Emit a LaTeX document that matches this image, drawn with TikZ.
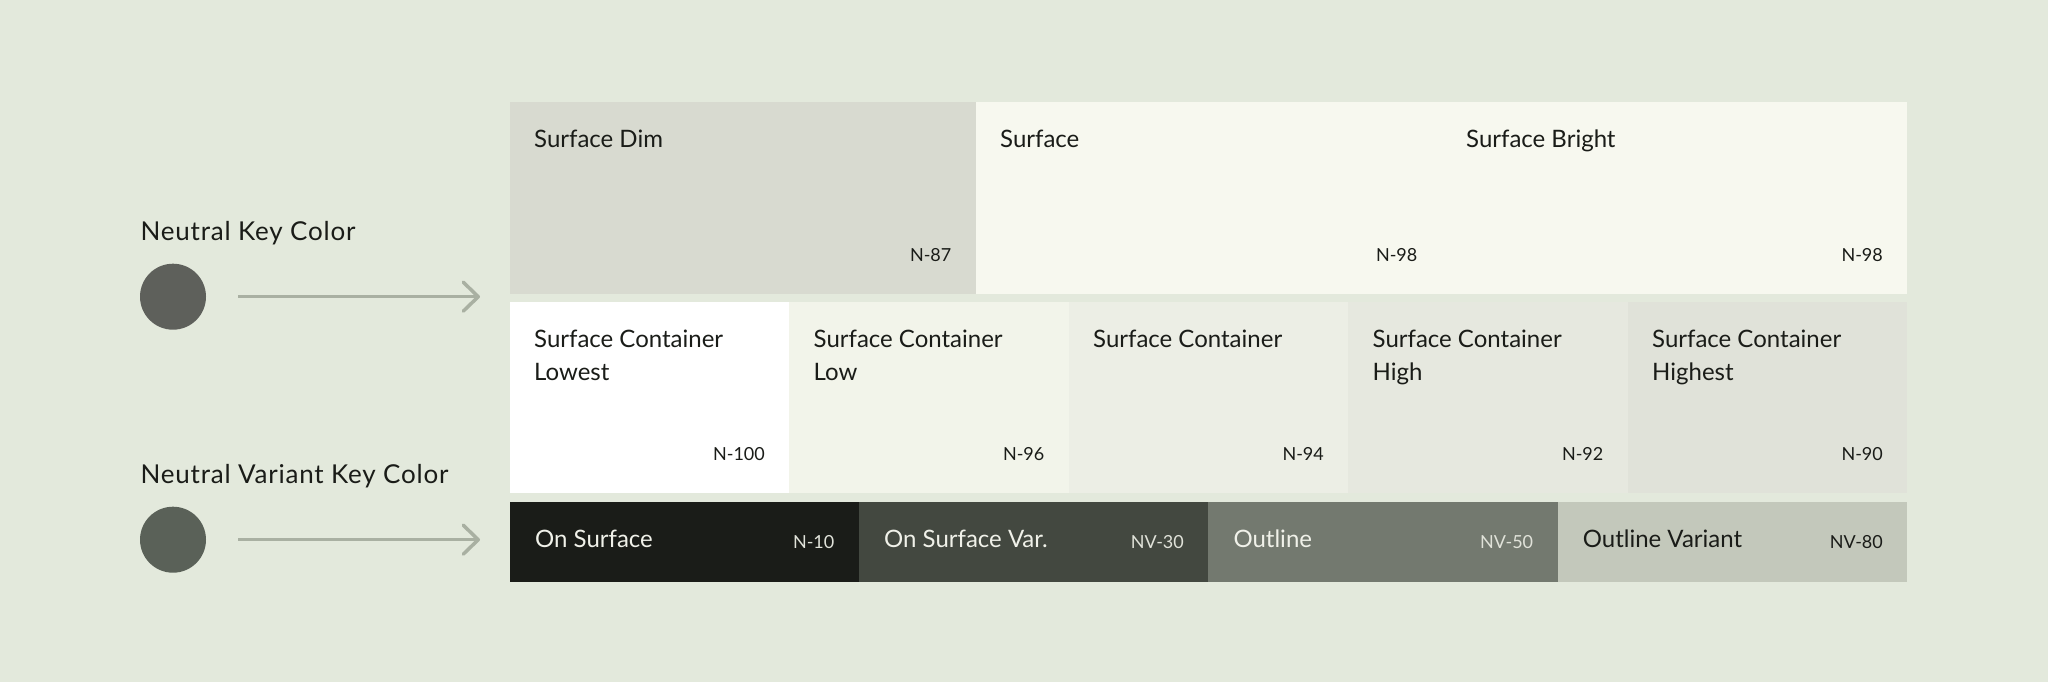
\documentclass[tikz,border=0pt]{standalone}
\usepackage{fontspec}
\setmainfont{Lato}
\newfontfamily\keyfont[LetterSpace=3.0]{Lato}
\usetikzlibrary{arrows.meta}
\definecolor{bg}{HTML}{E3E9DC}
\definecolor{ink}{HTML}{1A1C18}
\definecolor{light}{HTML}{F0F1E9}
\definecolor{lightdim}{HTML}{E0E2D9}
\definecolor{sdim}{HTML}{D8DAD0}
\definecolor{surf}{HTML}{F7F8EF}
\definecolor{scLowest}{HTML}{FFFFFF}
\definecolor{scLow}{HTML}{F2F4EA}
\definecolor{sc}{HTML}{ECEEE5}
\definecolor{scHigh}{HTML}{E6E8DF}
\definecolor{scHighest}{HTML}{E0E2D9}
\definecolor{onsurf}{HTML}{1A1C18}
\definecolor{onsurfvar}{HTML}{434840}
\definecolor{outl}{HTML}{73796F}
\definecolor{outlvar}{HTML}{C3C8BB}
\definecolor{keyN}{HTML}{5E605B}
\definecolor{keyNV}{HTML}{5A6158}
\definecolor{arrowc}{HTML}{A9B0A2}
\begin{document}
\begin{tikzpicture}[x=1pt,y=-1pt,
  cell/.style={rectangle, inner sep=0pt, outer sep=0pt, anchor=north west, draw=none},
  bigcell/.style={cell, minimum width=466.2pt, minimum height=191.5pt},
  midcell/.style={cell, minimum width=279.6pt, minimum height=191pt},
  lowcell/.style={cell, minimum width=349.5pt, minimum height=80pt},
  title/.style={anchor=base west, inner sep=0pt, text=ink, font=\fontsize{24}{32.6}\selectfont},
  tone/.style={anchor=base east, inner sep=0pt, text=ink, font=\fontsize{18}{22}\selectfont},
  keylabel/.style={anchor=base west, inner sep=0pt, text=ink, font=\keyfont\fontsize{26}{30}\selectfont},
  keydot/.style={circle, inner sep=0pt, minimum size=66pt},
  keyarrow/.style={draw=arrowc, line width=3.5pt, -{Straight Barb[length=15pt,width=29pt,round]}}
]
\fill[bg] (0,0) rectangle (2048,682);
\useasboundingbox (0,0) rectangle (2048,682);

% ---- row 1
\node[bigcell, fill=sdim] (dim) at (509.5,102) {};
\node[bigcell, fill=surf, minimum width=466.6pt] (surface) at (975.6,102) {};
\node[bigcell, fill=surf] (bright) at (1440.8,102) {};
\node[title] (dimT) at (534,147.5) {Surface Dim};
\node[tone] (dimN) at (951.5,261) {N-87};
\node[title] (surfT) at (1000,147.5) {Surface};
\node[tone] (surfN) at (1417.5,261) {N-98};
\node[title] (brightT) at (1466,147.5) {Surface Bright};
\node[tone] (brightN) at (1883,261) {N-98};

% ---- row 2
\node[midcell, fill=scLowest] (c1) at (509.5,302.3) {};
\node[midcell, fill=scLow] (c2) at (789,302.3) {};
\node[midcell, fill=sc] (c3) at (1068.5,302.3) {};
\node[midcell, fill=scHigh] (c4) at (1348,302.3) {};
\node[midcell, fill=scHighest] (c5) at (1627.5,302.3) {};
\node[title] (c1T) at (534,347.5) {\vtop{\hbox{Surface Container}\hbox{Lowest}}};
\node[title] (c2T) at (813.5,347.5) {\vtop{\hbox{Surface Container}\hbox{Low}}};
\node[title] (c3T) at (1093,347.5) {Surface Container};
\node[title] (c4T) at (1372.5,347.5) {\vtop{\hbox{Surface Container}\hbox{High}}};
\node[title] (c5T) at (1652,347.5) {\vtop{\hbox{Surface Container}\hbox{Highest}}};
\node[tone] (c1N) at (765,460.7) {N-100};
\node[tone] (c2N) at (1044.5,460.7) {N-96};
\node[tone] (c3N) at (1324,460.7) {N-94};
\node[tone] (c4N) at (1603.5,460.7) {N-92};
\node[tone] (c5N) at (1883,460.7) {N-90};

% ---- row 3
\node[lowcell, fill=onsurf] (o1) at (509.5,501.7) {};
\node[lowcell, fill=onsurfvar] (o2) at (858.9,501.7) {};
\node[lowcell, fill=outl] (o3) at (1208.3,501.7) {};
\node[lowcell, fill=outlvar] (o4) at (1557.6,501.7) {};
\node[title, text=light] (o1T) at (535,547.2) {On Surface};
\node[tone, text=lightdim] (o1N) at (834.5,548.3) {N-10};
\node[title, text=light] (o2T) at (884,547.2) {On Surface Var.};
\node[tone, text=lightdim] (o2N) at (1184,548.3) {NV-30};
\node[title, text=light] (o3T) at (1233.3,547.2) {Outline};
\node[tone, text=lightdim] (o3N) at (1533.3,548.3) {NV-50};
\node[title] (o4T) at (1582.6,547.2) {Outline Variant};
\node[tone] (o4N) at (1883,548.3) {NV-80};

% ---- key colours
\node[keylabel] (nlab) at (140.5,240) {Neutral Key Color};
\node[keydot, fill=keyN] (nkey) at (173,296.7) {};
\coordinate (nend) at (480,296.7);
\draw[keyarrow, shorten <=32pt] (nkey.east) -- (nend);

\node[keylabel] (nvlab) at (140.5,483) {Neutral Variant Key Color};
\node[keydot, fill=keyNV] (nvkey) at (173,539.7) {};
\coordinate (nvend) at (480,539.7);
\draw[keyarrow, shorten <=32pt] (nvkey.east) -- (nvend);
\end{tikzpicture}
\end{document}
